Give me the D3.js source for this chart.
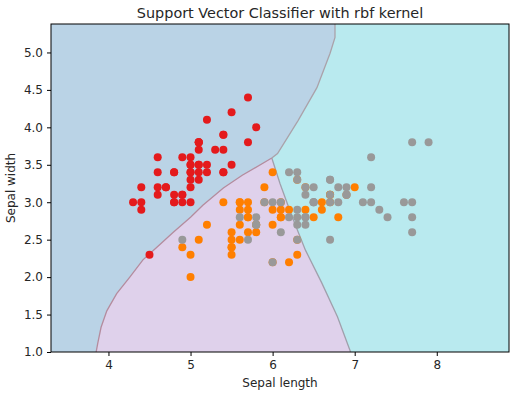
<!DOCTYPE html>
<html>
<head>
<meta charset="utf-8">
<script src="https://cdn.jsdelivr.net/npm/d3@7"></script>
<style>
  body { margin: 0; background: #fff; }
  text { font-family: "DejaVu Sans", sans-serif; fill: #262626; }
</style>
</head>
<body>
<div id="chart"></div>
<script>
// iris data: [sepal length, sepal width]
var setosa = [
  [5.1,3.5],[4.9,3.0],[4.7,3.2],[4.6,3.1],[5.0,3.6],[5.4,3.9],[4.6,3.4],[5.0,3.4],[4.4,2.9],[4.9,3.1],
  [5.4,3.7],[4.8,3.4],[4.8,3.0],[4.3,3.0],[5.8,4.0],[5.7,4.4],[5.4,3.9],[5.1,3.5],[5.7,3.8],[5.1,3.8],
  [5.4,3.4],[5.1,3.7],[4.6,3.6],[5.1,3.3],[4.8,3.4],[5.0,3.0],[5.0,3.4],[5.2,3.5],[5.2,3.4],[4.7,3.2],
  [4.8,3.1],[5.4,3.4],[5.2,4.1],[5.5,4.2],[4.9,3.1],[5.0,3.2],[5.5,3.5],[4.9,3.6],[4.4,3.0],[5.1,3.4],
  [5.0,3.5],[4.5,2.3],[4.4,3.2],[5.0,3.5],[5.1,3.8],[4.8,3.0],[5.1,3.8],[4.6,3.2],[5.3,3.7],[5.0,3.3]
];
var versicolor = [
  [7.0,3.2],[6.4,3.2],[6.9,3.1],[5.5,2.3],[6.5,2.8],[5.7,2.8],[6.3,3.3],[4.9,2.4],[6.6,2.9],[5.2,2.7],
  [5.0,2.0],[5.9,3.0],[6.0,2.2],[6.1,2.9],[5.6,2.9],[6.7,3.1],[5.6,3.0],[5.8,2.7],[6.2,2.2],[5.6,2.5],
  [5.9,3.2],[6.1,2.8],[6.3,2.5],[6.1,2.8],[6.4,2.9],[6.6,3.0],[6.8,2.8],[6.7,3.0],[6.0,2.9],[5.7,2.6],
  [5.5,2.4],[5.5,2.4],[5.8,2.7],[6.0,2.7],[5.4,3.0],[6.0,3.4],[6.7,3.1],[6.3,2.3],[5.6,3.0],[5.5,2.5],
  [5.5,2.6],[6.1,3.0],[5.8,2.6],[5.0,2.3],[5.6,2.7],[5.7,3.0],[5.7,2.9],[6.2,2.9],[5.1,2.5],[5.7,2.8]
];
var virginica = [
  [6.3,3.3],[5.8,2.7],[7.1,3.0],[6.3,2.9],[6.5,3.0],[7.6,3.0],[4.9,2.5],[7.3,2.9],[6.7,2.5],[7.2,3.6],
  [6.5,3.2],[6.4,2.7],[6.8,3.0],[5.7,2.5],[5.8,2.8],[6.4,3.2],[6.5,3.0],[7.7,3.8],[7.7,2.6],[6.0,2.2],
  [6.9,3.2],[5.6,2.8],[7.7,2.8],[6.3,2.7],[6.7,3.3],[7.2,3.2],[6.2,2.8],[6.1,3.0],[6.4,2.8],[7.2,3.0],
  [7.4,2.8],[7.9,3.8],[6.4,2.8],[6.3,2.8],[6.1,2.6],[7.7,3.0],[6.3,3.4],[6.4,3.1],[6.0,3.0],[6.9,3.1],
  [6.7,3.1],[6.9,3.1],[5.8,2.7],[6.8,3.2],[6.7,3.3],[6.7,3.0],[6.3,2.5],[6.5,3.0],[6.2,3.4],[5.9,3.0]
];

// decision boundaries (data units)
var blueCyanEdge = [[6.76,5.38],[6.76,5.2],[6.70,4.99],[6.54,4.53],[6.31,4.09],[6.06,3.65],[5.99,3.59]];
var purpleCyanEdge = [[5.99,3.59],[6.09,3.25],[6.24,2.80],[6.40,2.36],[6.60,1.92],[6.79,1.47],[6.95,1.0]];
var bluePurpleEdge = [[5.99,3.59],[5.63,3.36],[5.40,3.19],[5.15,2.96],[5.00,2.80],[4.79,2.60],[4.59,2.40],
  [4.42,2.23],[4.26,2.00],[4.10,1.78],[3.98,1.55],[3.91,1.33],[3.87,1.12],[3.85,1.0]];

var xDomain = [3.3, 8.88];
var yDomain = [1.0, 5.38];
var xTicks = [4, 5, 6, 7, 8];
var yTicks = [1.0, 1.5, 2.0, 2.5, 3.0, 3.5, 4.0, 4.5, 5.0];

var svgWidth = 516, svgHeight = 395;
var margin = {top: 24, left: 51, right: 7, bottom: 43};
var width = svgWidth - margin.left - margin.right;
var height = svgHeight - margin.top - margin.bottom;

var svg = d3.select('#chart').append('svg')
  .attr('width', svgWidth)
  .attr('height', svgHeight);

var chartGroup = svg.append('g')
  .attr('transform', `translate(${margin.left}, ${margin.top})`);

var x = d3.scaleLinear().domain(xDomain).range([0, width]);
var y = d3.scaleLinear().domain(yDomain).range([height, 0]);

var line = d3.line().x(d => x(d[0])).y(d => y(d[1]));

// regions: purple base, then blue and cyan on top
chartGroup.append('rect')
  .attr('width', width).attr('height', height)
  .attr('fill', '#dfd1eb');

var bluePoly = [[xDomain[0], yDomain[1]]].concat(blueCyanEdge, bluePurpleEdge.slice(1), [[xDomain[0], yDomain[0]]]);
chartGroup.append('path')
  .attr('d', line(bluePoly) + 'Z')
  .attr('fill', '#bad3e6');

var cyanPoly = [[xDomain[1], yDomain[1]], [xDomain[1], yDomain[0]]]
  .concat(purpleCyanEdge.slice().reverse(), blueCyanEdge.slice().reverse().slice(1));
chartGroup.append('path')
  .attr('d', line(cyanPoly) + 'Z')
  .attr('fill', '#b9eaef');

// boundary lines
chartGroup.append('path').attr('d', line(blueCyanEdge))
  .attr('fill', 'none').attr('stroke', '#aaa2aa').attr('stroke-width', 1.3);
chartGroup.append('path').attr('d', line(purpleCyanEdge))
  .attr('fill', 'none').attr('stroke', '#a0a0ac').attr('stroke-width', 1.3);
chartGroup.append('path').attr('d', line(bluePurpleEdge))
  .attr('fill', 'none').attr('stroke', '#b48c9e').attr('stroke-width', 1.3);

// points
var points = setosa.map(d => ({v: d, c: '#e41a1c'}))
  .concat(versicolor.map(d => ({v: d, c: '#ff7f00'})))
  .concat(virginica.map(d => ({v: d, c: '#999999'})));

chartGroup.selectAll('circle')
  .data(points)
  .enter()
  .append('circle')
  .attr('cx', d => x(d.v[0]))
  .attr('cy', d => y(d.v[1]))
  .attr('r', 4)
  .attr('fill', d => d.c);

// axes
var bottomAxis = d3.axisBottom(x).tickValues(xTicks).tickSize(4).tickPadding(4).tickFormat(d3.format('d'));
var leftAxis = d3.axisLeft(y).tickValues(yTicks).tickSize(4).tickPadding(4).tickFormat(d3.format('.1f'));

var xAxis = chartGroup.append('g')
  .attr('transform', `translate(0, ${height})`)
  .call(bottomAxis);
var yAxis = chartGroup.append('g').call(leftAxis);

[xAxis, yAxis].forEach(function(a) {
  a.select('.domain').remove();
  a.selectAll('line').attr('stroke', '#000');
  a.selectAll('text').style('font-size', '12px').attr('fill', '#262626');
});

// frame
chartGroup.append('rect')
  .attr('width', width).attr('height', height)
  .attr('fill', 'none').attr('stroke', '#000').attr('stroke-width', 1);

// title and labels
svg.append('text')
  .attr('x', margin.left + width / 2).attr('y', 18)
  .attr('text-anchor', 'middle')
  .style('font-size', '14.4px')
  .text('Support Vector Classifier with rbf kernel');

svg.append('text')
  .attr('x', margin.left + width / 2).attr('y', 387)
  .attr('text-anchor', 'middle')
  .style('font-size', '12px')
  .text('Sepal length');

svg.append('text')
  .attr('transform', 'rotate(-90)')
  .attr('x', -(margin.top + height / 2)).attr('y', 15)
  .attr('text-anchor', 'middle')
  .style('font-size', '12px')
  .text('Sepal width');
</script>
</body>
</html>
